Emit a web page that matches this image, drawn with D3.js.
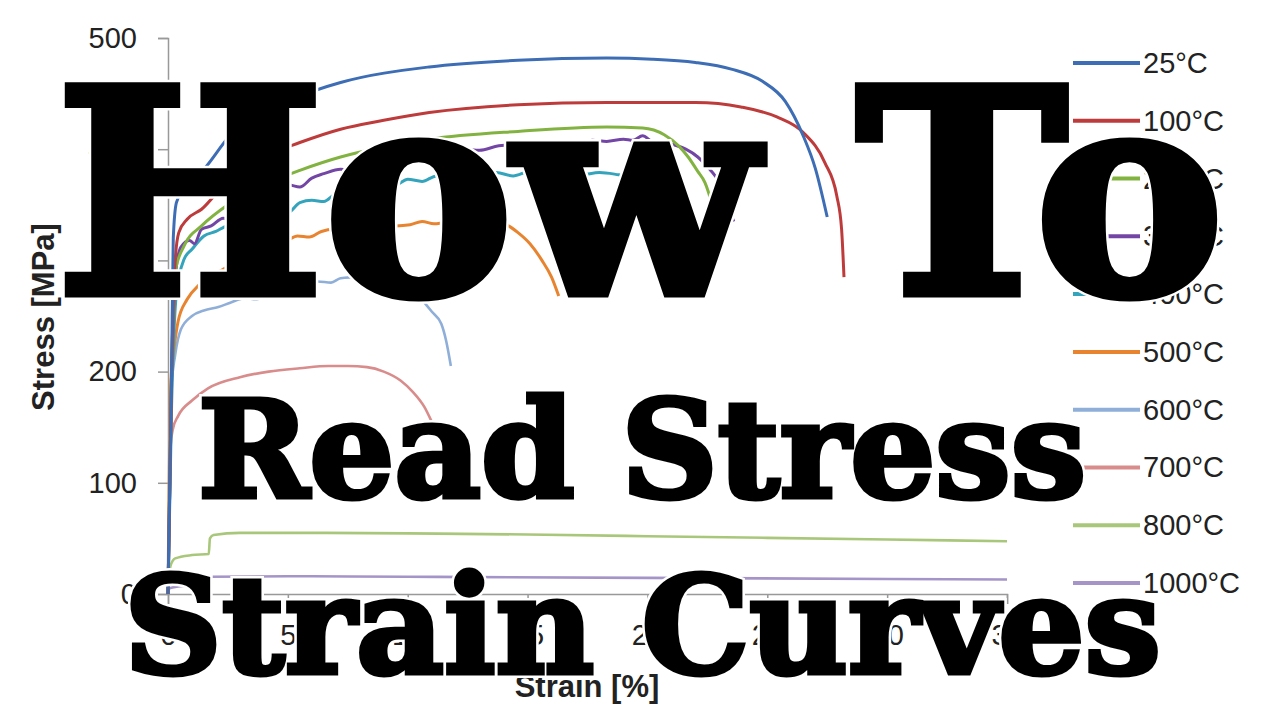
<!DOCTYPE html>
<html><head><meta charset="utf-8">
<script src="https://cdn.jsdelivr.net/npm/d3@7"></script>
<style>html,body{margin:0;padding:0;background:#fff;overflow:hidden}</style>
</head><body>
<svg id="c" width="1280" height="720"></svg>
<script>
// ---- data ----
const seriesNames = ["25°C","100°C","200°C","300°C","400°C","500°C","600°C","700°C","800°C","1000°C"];
const seriesColors = ["#3D6DB4","#BE3B3B","#82B341","#7346A6","#34A3BC","#E8842F","#8FAFD9","#D98C8C","#A9C77A","#A594C8"];
const xTicks = [0,5,10,15,20,25,30,35];
const yTicks = [0,100,200,300,400,500];
const titleLines = ["How To","Read Stress","Strain Curves"];

const s25 = [[0,0],[0.15,200],[0.22,320],[0.35,352],[0.7,366],[1.5,382],[2.5,410],[3.5,430],[4.9,443],[7.2,460],[10.9,474],[14.6,480],[18.3,482],[20.2,481],[22,478],[23.5,472],[24.8,461],[25.75,443],[26.5,412],[27,383],[27.5,339]];
const s100 = [[0,0],[0.15,200],[0.3,300],[0.45,325],[0.8,337],[1.4,346],[2.5,372],[3.9,392],[5.5,406],[7.2,418],[9,426],[10.9,433],[14.6,440],[18.3,442],[22,442],[23.9,438],[25.4,429],[26.5,415],[27.4,388],[27.9,358],[28.1,328],[28.2,285]];
const s200 = [[0,0],[0.15,200],[0.3,290],[0.67,313],[1.4,331],[2.5,350],[4,368],[5.5,381],[7.2,393],[9,402],[10.9,409],[14.6,416],[18.3,420],[19.8,419],[20.7,413],[21.3,403],[21.7,393],[22.1,380],[22.4,370],[22.7,350],[22.9,332]];
const s300 = [[0,0],[0.15,190],[0.3,285],[0.54,312],[0.9,318],[1.1,315],[1.4,328],[1.8,331],[2.3,338],[2.7,336],[3.2,348],[3.6,352],[4,361],[4.5,360],[5,368],[5.5,366],[6,374],[6.5,378],[7.2,382],[7.8,380],[8.4,388],[9,387],[9.6,393],[10.3,392],[10.9,397],[11.6,395],[12.3,400],[13,399],[13.8,403],[14.6,404],[15.4,402],[16.2,406],[17,405],[17.7,408],[18.3,407],[19,409],[19.4,408],[19.8,412],[20.2,407],[20.7,406],[21.1,404],[21.6,400],[22.1,393],[22.6,382],[23,370],[23.3,352],[23.6,335]];
const s400 = [[0,0],[0.15,170],[0.35,270],[0.67,301],[1,310],[1.5,322],[2,326],[2.5,331],[3,329],[3.5,336],[4,340],[4.5,344],[5,343],[5.5,352],[6,354],[6.5,353],[7,360],[7.5,362],[8,361],[8.5,366],[9,370],[9.5,368],[10,373],[10.6,371],[11.2,376],[11.8,374],[12.4,378],[13,377],[13.7,379],[14.4,376],[15.1,380],[15.8,378],[16.5,379],[17.2,377],[18,379],[18.8,377],[19.6,374],[20.2,367],[20.8,358],[21.3,346],[21.7,331],[22,307],[22.1,272]];
const s500 = [[0,0],[0.12,191],[0.25,220],[0.42,245],[0.8,265],[1.3,278],[1.8,286],[2.3,292],[2.8,298],[3.3,302],[3.7,306],[4,310],[4.5,313],[5,318],[5.4,322],[5.9,321],[6.4,326],[6.9,328],[7.4,327],[7.9,331],[8.4,333],[9,334],[9.5,331],[10.1,332],[10.6,335],[11.1,333],[11.6,334],[12.1,332],[12.6,335],[13.1,333],[13.7,334],[14.2,331],[14.6,325],[15.1,315],[15.6,300],[16,285],[16.3,268]];
const s600 = [[0,0],[0.12,180],[0.3,215],[0.54,238],[1,250],[1.5,255],[2.1,258],[2.6,262],[3.2,266],[3.7,265],[4.2,270],[4.8,274],[5.3,276],[5.8,279],[6.25,281],[6.8,280],[7.2,284],[7.8,285],[8.4,286],[9,285],[9.5,283],[10,278],[10.4,270],[10.7,262],[11,254],[11.4,243],[11.6,228],[11.8,205]];
const s700 = [[0,0],[0.05,60],[0.08,100],[0.1,130],[0.2,148],[0.42,160],[1,174],[1.67,185],[3,195],[4.2,200],[5.5,203],[6.7,205],[7.5,205],[8.3,204],[9,200],[9.7,192],[10.2,182],[10.7,168],[11,155]];
const s800 = [[0,0],[0.05,15],[0.1,25],[0.3,32],[1,35],[1.7,36],[1.75,50],[1.9,53],[3,55],[5,55],[10,54.5],[15,53.5],[20,52],[25,50.5],[30,49],[35,47.5]];
const s1000 = [[0,0],[0.05,5],[0.5,7],[1.4,8],[1.5,14],[1.7,15.5],[5,16],[10,15.5],[20,14.5],[30,13.5],[35,13]];
const seriesData = [s25,s100,s200,s300,s400,s500,s600,s700,s800,s1000];

// ---- drawing ----
const svg = d3.select("#c");
const sans = "'Liberation Sans', Arial, sans-serif";
const x = d3.scaleLinear().domain([0,35]).range([168,1007]);
const y = d3.scaleLinear().domain([0,500]).range([594,38]);

// axes
const xAxis = svg.append("g").attr("transform","translate(0,594)")
  .call(d3.axisBottom(x).tickValues(xTicks).tickSize(10).tickPadding(20).tickFormat(d3.format("d")));
const yAxis = svg.append("g").attr("transform","translate(168,0)")
  .call(d3.axisLeft(y).tickValues(yTicks).tickSize(10).tickPadding(21).tickFormat(d3.format("d")));
[xAxis,yAxis].forEach(a=>{
  a.select(".domain").attr("stroke","#999").attr("stroke-width",1.5);
  a.selectAll(".tick line").attr("stroke","#999").attr("stroke-width",1.5);
  a.selectAll("text").attr("fill","#222").style("font-family",sans).style("font-size","29px");
});

// axis titles
svg.append("text").attr("transform","translate(54,317) rotate(-90)")
  .attr("text-anchor","middle").style("font-family",sans).style("font-size","31px")
  .style("font-weight","bold").attr("fill","#222").text("Stress [MPa]");
svg.append("text").attr("x",587).attr("y",697)
  .attr("text-anchor","middle").style("font-family",sans).style("font-size","31px")
  .style("font-weight","bold").attr("fill","#222").text("Strain [%]");

// curves
const line = d3.line().x(d=>x(d[0])).y(d=>y(d[1])).curve(d3.curveMonotoneX);
const order = [9,8,7,6,5,4,3,2,1,0];
order.forEach(i=>{
  svg.append("path").datum(seriesData[i]).attr("d",line)
    .attr("fill","none").attr("stroke",seriesColors[i])
    .attr("stroke-width", i>=6 ? 2.6 : 3).attr("stroke-linejoin","round");
});

// legend
const ly = d3.scaleLinear().domain([0,seriesNames.length-1]).range([63,583]);
seriesNames.forEach((n,i)=>{
  const g = svg.append("g").attr("transform",`translate(0,${ly(i)})`);
  g.append("line").attr("x1",1073).attr("x2",1140).attr("y1",0).attr("y2",0)
    .attr("stroke",seriesColors[i]).attr("stroke-width",4);
  g.append("text").attr("x",1143).attr("y",10).style("font-family",sans)
    .style("font-size","29px").attr("fill","#222").text(n);
});

// overlay title (heavy slab serif look: black stroke thickens glyphs, white halo beneath)
const serif = "'DejaVu Serif', serif";
const tspec = [
  {x:56, y:293, fs:283, len:1168, w:9},
  {x:198, y:497, fs:134, len:888, w:5},
  {x:124, y:673, fs:134, len:1037, w:5}
];
titleLines.forEach((t,i)=>{
  const s = tspec[i];
  [["#fff", s.w+5],["#000", s.w]].forEach(([col,sw])=>{
    svg.append("text").attr("x",s.x).attr("y",s.y)
      .attr("textLength",s.len).attr("lengthAdjust","spacingAndGlyphs")
      .style("font-family",serif).style("font-weight","bold").style("font-size",s.fs+"px")
      .attr("fill","#000").attr("stroke",col).attr("stroke-width",sw)
      .attr("stroke-linejoin","miter").text(t);
  });
});
</script>
</body></html>
